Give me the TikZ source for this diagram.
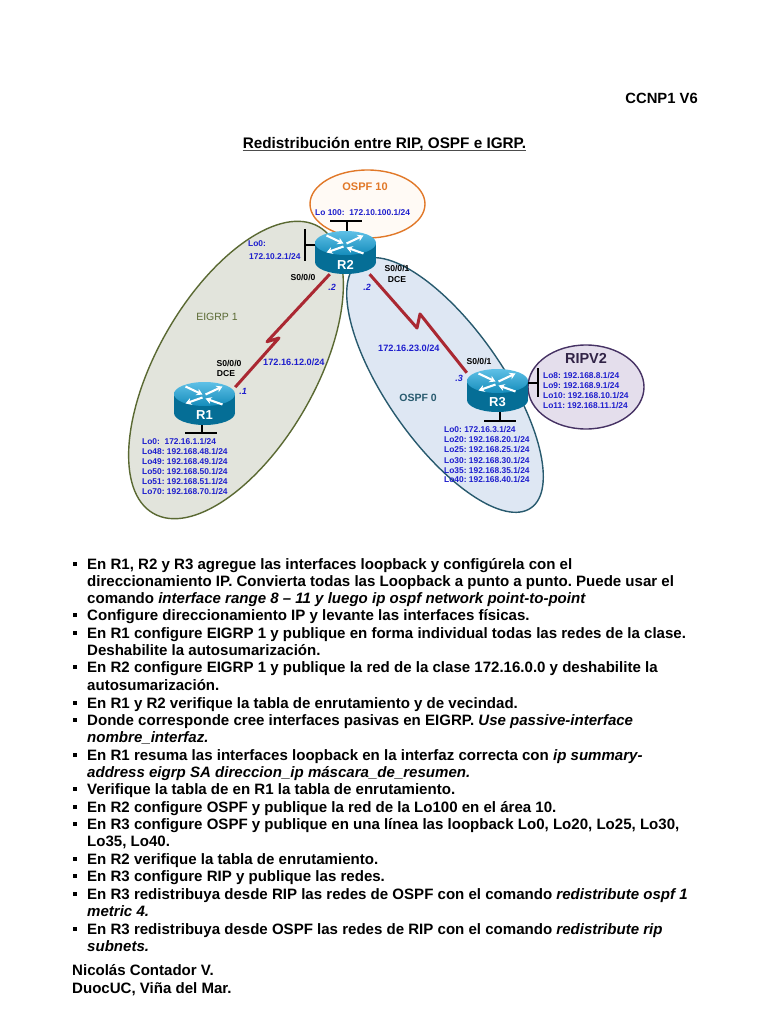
\documentclass[tikz,border=0pt]{standalone}
\usepackage{fontspec}
\setmainfont{Liberation Sans}
\usepackage{tikz}
\usetikzlibrary{shapes,arrows.meta,positioning,calc}
\definecolor{linkred}{RGB}{170,40,50}
\definecolor{labelblue}{RGB}{30,30,205}
\definecolor{routertop}{RGB}{25,165,220}
\definecolor{routerside}{RGB}{5,110,150}
\definecolor{eigrpfill}{RGB}{226,228,220}
\definecolor{eigrpline}{RGB}{90,105,50}
\definecolor{ospffill}{RGB}{222,231,243}
\definecolor{ospfline}{RGB}{40,90,110}
\definecolor{areafill}{RGB}{255,250,245}
\definecolor{arealine}{RGB}{225,120,40}
\definecolor{ripfill}{RGB}{228,222,236}
\definecolor{ripline}{RGB}{70,50,100}
\frenchspacing
\tikzset{
    zone/.style n args={2}{draw=#1, fill=#2, ellipse, line width=1.4pt, inner sep=0pt},
    stub/.style={line width=1.7pt, black},
    link/.style={line width=3pt, linkred, line join=round},
    addr/.style={anchor=base west, inner sep=0pt, font=\fontsize{8.4}{10}\selectfont\bfseries, text=labelblue},
    netlbl/.style={addr, font=\fontsize{9.2}{10}\selectfont\bfseries},
    port/.style={inner sep=0pt, font=\fontsize{8.6}{10}\selectfont\bfseries, text=black},
    dotip/.style={inner sep=0pt, font=\fontsize{9}{10}\selectfont\bfseries\itshape, text=labelblue},
    bodytxt/.style={anchor=base west, inner sep=0pt, font=\fontsize{15.05}{16}\selectfont\bfseries},
    bulletbox/.style={fill=black, minimum size=4pt, inner sep=0pt},
    turn/.style={white, line width=2.1pt, -{Stealth[length=6pt,width=7pt]}},
    router/.pic={
        \fill[routerside] (-30.5,-9.5) rectangle (30.5,9.5);
        \fill[routerside] (0,9.5) ellipse [x radius=30.5, y radius=12];
        \shade[top color=routertop!70!white, bottom color=routertop!85!black] (0,-9.5) ellipse [x radius=30.5, y radius=12];
        \draw[turn] (-19,-17) -- (-2,-9);
        \draw[turn] (1,-9) -- (18,-17);
        \draw[turn] (-2,-6) -- (-19,0);
        \draw[turn] (18,1) -- (1,-5);
        \node[minimum width=61pt, minimum height=43pt, inner sep=0pt] (-body) at (0,0) {};
        \node[inner sep=0pt, text=white, font=\fontsize{13}{14}\selectfont\bfseries] (-label) at (0,12) {#1};
    },
}
\begin{document}
\begin{tikzpicture}[x=1pt, y=-1pt]
    \useasboundingbox (0,0) rectangle (768,1024);
    \fill[white] (0,0) rectangle (768,1024);

    \node[anchor=base east, inner sep=0pt, font=\fontsize{14.8}{16}\selectfont\bfseries] (ccnp) at (698,104) {CCNP1 V6};
    \node[inner sep=0pt, anchor=base, font=\fontsize{15.3}{16}\selectfont\bfseries] (title) at (384.5,148.5) {Redistribución entre RIP, OSPF e IGRP.};
    \draw[line width=1pt, black!70] ([yshift=-2.5pt]title.base west) -- ([yshift=-2.5pt]title.base east);

    \node[zone={eigrpline}{eigrpfill}, minimum width=331pt, minimum height=158pt, rotate=60] (eigrp) at (236,370) {};
    \node[zone={ospfline}{ospffill}, minimum width=300pt, minimum height=116pt, rotate=-55] (ospf0) at (445,385) {};
    \node[zone={arealine}{areafill}, minimum width=115pt, minimum height=68pt] (ospf10) at (367.5,204) {};
    \node[zone={ripline}{ripfill}, minimum width=116pt, minimum height=84pt] (ripv2) at (586,387) {};

    \pic (R2) at (345.5,252.5) {router=R2};
    \pic (R1) at (204.5,403.5) {router=R1};
    \pic (R3) at (497.5,390.5) {router=R3};

    \coordinate (k1) at (267,341.7);
    \coordinate (k2) at (279,338);
    \coordinate (k3) at (417,328);
    \coordinate (k4) at (420,314);
    \draw[link] (R2-body.-126) -- (k1) -- (k2) -- (R1-body.28);
    \draw[link] (R2-body.-42) -- (k3) -- (k4) -- (R3-body.150);

    \coordinate (R2wa) at (305,229);
    \coordinate (R2wb) at (305,261);
    \coordinate (R2wc) at (305,245);
    \coordinate (R2na) at (330,221);
    \coordinate (R2nb) at (362,221);
    \coordinate (R2nc) at (347,221);
    \coordinate (R1sa) at (185,433);
    \coordinate (R1sb) at (217,433);
    \coordinate (R1sc) at (202,433);
    \coordinate (R3sa) at (484,421);
    \coordinate (R3sb) at (516,421);
    \coordinate (R3sc) at (500,421);
    \coordinate (R3ea) at (538,368);
    \coordinate (R3eb) at (538,397);
    \coordinate (R3ec) at (538,383);
    \draw[stub] (R2wa) -- (R2wb);
    \draw[stub] (R2wc) -- (R2-body.west |- R2wc);
    \draw[stub] (R2na) -- (R2nb);
    \draw[stub] (R2nc) -- (R2nc |- R2-body.north);
    \draw[stub] (R1sa) -- (R1sb);
    \draw[stub] (R1sc) -- (R1sc |- R1-body.south);
    \draw[stub] (R3sa) -- (R3sb);
    \draw[stub] (R3sc) -- (R3sc |- R3-body.south);
    \draw[stub] (R3ea) -- (R3eb);
    \draw[stub] (R3ec) -- (R3-body.east |- R3ec);

    \node[inner sep=0pt, font=\fontsize{11}{12}\selectfont\bfseries, text=arealine] (lblarea) at (365,187) {OSPF 10};
    \node[inner sep=0pt, font=\fontsize{10.5}{12}\selectfont, text=eigrpline] (lbleigrp) at (217,317) {EIGRP 1};
    \node[inner sep=0pt, font=\fontsize{10.5}{12}\selectfont\bfseries, text=ospfline] (lblospf) at (418,398) {OSPF 0};
    \node[inner sep=0pt, font=\fontsize{14.5}{16}\selectfont\bfseries, text=ripline!70!black] (lblrip) at (586,358) {RIPV2};

    \node[addr] (r2a) at (315,215) {Lo 100:\ \ 172.10.100.1/24};
    \node[addr] (r2b) at (248,247) {Lo0:};
    \node[addr] (r2c) at (249,259) {172.10.2.1/24};
    \node[port] (p1) at (303,277) {S0/0/0};
    \node[port] (p2) at (397,268) {S0/0/1};
    \node[port] (p3) at (397,280) {DCE};
    \node[port] (p4) at (229,363) {S0/0/0};
    \node[port] (p5) at (226,374) {DCE};
    \node[port] (p6) at (479,361) {S0/0/1};
    \node[dotip] (d1) at (332,287) {.2};
    \node[dotip] (d2) at (367,287) {.2};
    \node[dotip] (d3) at (243,391) {.1};
    \node[dotip] (d4) at (459,378) {.3};
    \node[netlbl] (net1) at (263,365) {172.16.12.0/24};
    \node[netlbl] (net2) at (378,351) {172.16.23.0/24};

    \node[addr] (r1a) at (142,444) {Lo0:\ \ 172.16.1.1/24};
    \node[addr] (r1b) at (142,454) {Lo48: 192.168.48.1/24};
    \node[addr] (r1c) at (142,464) {Lo49: 192.168.49.1/24};
    \node[addr] (r1d) at (142,474) {Lo50: 192.168.50.1/24};
    \node[addr] (r1e) at (142,484) {Lo51: 192.168.51.1/24};
    \node[addr] (r1f) at (142,494) {Lo70: 192.168.70.1/24};

    \node[addr] (r3a) at (444,432) {Lo0: 172.16.3.1/24};
    \node[addr] (r3b) at (444,442) {Lo20: 192.168.20.1/24};
    \node[addr] (r3c) at (444,452.5) {Lo25: 192.168.25.1/24};
    \node[addr] (r3d) at (444,463) {Lo30: 192.168.30.1/24};
    \node[addr] (r3e) at (444,473) {Lo35: 192.168.35.1/24};
    \node[addr] (r3f) at (444,482.5) {Lo40: 192.168.40.1/24};

    \node[addr] (rpa) at (543,378) {Lo8: 192.168.8.1/24};
    \node[addr] (rpb) at (543,388) {Lo9: 192.168.9.1/24};
    \node[addr] (rpc) at (543,398) {Lo10: 192.168.10.1/24};
    \node[addr] (rpd) at (543,408) {Lo11: 192.168.11.1/24};

    \node[bodytxt] (l1) at (87,569) {En R1, R2 y R3 agregue las interfaces loopback y configúrela con el};
    \node[bodytxt] (l2) at (87,586) {direccionamiento IP. Convierta todas las Loopback a punto a punto. Puede usar el};
    \node[bodytxt] (l3) at (87,603) {comando \textit{interface range 8 – 11 y luego ip ospf network point-to-point}};
    \node[bodytxt] (l4) at (87,620) {Configure direccionamiento IP y levante las interfaces físicas.};
    \node[bodytxt] (l5) at (87,638) {En R1 configure EIGRP 1 y publique en forma individual todas las redes de la clase.};
    \node[bodytxt] (l6) at (87,655) {Deshabilite la autosumarización.};
    \node[bodytxt] (l7) at (87,672) {En R2 configure EIGRP 1 y publique la red de la clase 172.16.0.0 y deshabilite la};
    \node[bodytxt] (l8) at (87,690) {autosumarización.};
    \node[bodytxt] (l9) at (87,708) {En R1 y R2 verifique la tabla de enrutamiento y de vecindad.};
    \node[bodytxt] (l10) at (87,725) {Donde corresponde cree interfaces pasivas en EIGRP. \textit{Use passive-interface}};
    \node[bodytxt] (l11) at (87,742) {\textit{nombre\_interfaz.}};
    \node[bodytxt] (l12) at (87,760) {En R1 resuma las interfaces loopback en la interfaz correcta con \textit{ip summary-}};
    \node[bodytxt] (l13) at (87,777) {\textit{address eigrp SA direccion\_ip máscara\_de\_resumen.}};
    \node[bodytxt] (l14) at (87,794) {Verifique la tabla de en R1 la tabla de enrutamiento.};
    \node[bodytxt] (l15) at (87,812) {En R2 configure OSPF y publique la red de la Lo100 en el área 10.};
    \node[bodytxt] (l16) at (87,829) {En R3 configure OSPF y publique en una línea las loopback Lo0, Lo20, Lo25, Lo30,};
    \node[bodytxt] (l17) at (87,846) {Lo35, Lo40.};
    \node[bodytxt] (l18) at (87,864) {En R2 verifique la tabla de enrutamiento.};
    \node[bodytxt] (l19) at (87,881) {En R3 configure RIP y publique las redes.};
    \node[bodytxt] (l20) at (87,899) {En R3 redistribuya desde RIP las redes de OSPF con el comando \textit{redistribute ospf 1}};
    \node[bodytxt] (l21) at (87,916) {\textit{metric 4.}};
    \node[bodytxt] (l22) at (87,934) {En R3 redistribuya desde OSPF las redes de RIP con el comando \textit{redistribute rip}};
    \node[bodytxt] (l23) at (87,951) {\textit{subnets.}};
    \node[bodytxt] (l24) at (72,975) {Nicolás Contador V.};
    \node[bodytxt] (l25) at (72,993) {DuocUC, Viña del Mar.};

    \node[bulletbox] (b1) at (74.5,564) {};
    \node[bulletbox] (b2) at (74.5,615) {};
    \node[bulletbox] (b3) at (74.5,633) {};
    \node[bulletbox] (b4) at (74.5,667) {};
    \node[bulletbox] (b5) at (74.5,703) {};
    \node[bulletbox] (b6) at (74.5,720) {};
    \node[bulletbox] (b7) at (74.5,755) {};
    \node[bulletbox] (b8) at (74.5,789) {};
    \node[bulletbox] (b9) at (74.5,807) {};
    \node[bulletbox] (b10) at (74.5,824) {};
    \node[bulletbox] (b11) at (74.5,859) {};
    \node[bulletbox] (b12) at (74.5,876) {};
    \node[bulletbox] (b13) at (74.5,894) {};
    \node[bulletbox] (b14) at (74.5,929) {};
\end{tikzpicture}
\end{document}
